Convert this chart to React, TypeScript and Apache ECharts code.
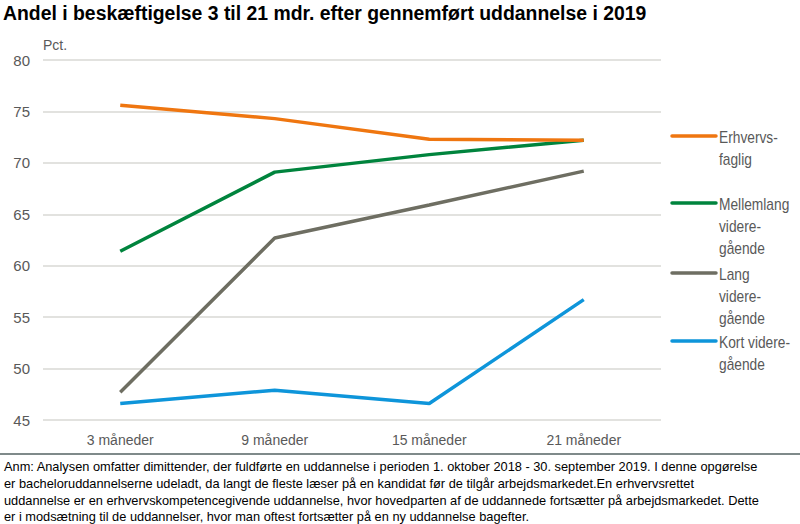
import React, { useEffect, useRef } from "react";
import * as echarts from "echarts";

const categories = ["3 måneder", "9 måneder", "15 måneder", "21 måneder"];
const seriesNames = ["Erhvervs-\nfaglig", "Mellemlang\nvidere-\ngående", "Lang\nvidere-\ngående", "Kort videre-\ngående"];
const erhvervsfaglig = [75.6, 74.3, 72.3, 72.2];
const mellemlang = [61.4, 69.1, 70.8, 72.2];
const lang = [47.7, 62.7, 65.9, 69.2];
const kort = [46.6, 47.9, 46.6, 56.7];
const colors = ["#EF7610", "#00843D", "#6E6E62", "#0E95DA"];
const legendY = [136, 203, 273, 341];

const title = "Andel i beskæftigelse 3 til 21 mdr. efter gennemført uddannelse i 2019";
const note =
  "Anm: Analysen omfatter dimittender, der fuldførte en uddannelse i perioden 1. oktober 2018 - 30. september 2019. I denne opgørelse\n" +
  "er bacheloruddannelserne udeladt, da langt de fleste læser på en kandidat før de tilgår arbejdsmarkedet.En erhvervsrettet\n" +
  "uddannelse er en erhvervskompetencegivende uddannelse, hvor hovedparten af de uddannede fortsætter på arbejdsmarkedet. Dette\n" +
  "er i modsætning til de uddannelser, hvor man oftest fortsætter på en ny uddannelse bagefter.";

const sans = "'Liberation Sans', Arial, sans-serif";

const App: React.FC = () => {
  const chartRef = useRef<HTMLDivElement>(null);

  useEffect(() => {
    if (!chartRef.current) return;
    const chart = echarts.init(chartRef.current, undefined, { renderer: "svg" });
    const values = [erhvervsfaglig, mellemlang, lang, kort];

    const legendGraphics: any[] = [];
    seriesNames.forEach((name, i) => {
      legendGraphics.push({
        type: "line",
        shape: { x1: 672, y1: legendY[i], x2: 716, y2: legendY[i] },
        style: { stroke: colors[i], lineWidth: 3.5, lineCap: "round" },
      });
      legendGraphics.push({
        type: "text",
        x: 719,
        y: legendY[i] - 10,
        scaleX: 0.86,
        style: {
          text: name,
          font: `16px ${sans}`,
          fill: "#595959",
          lineHeight: 22,
        },
      });
    });

    chart.setOption({
      animation: false,
      backgroundColor: "#ffffff",
      title: {
        text: title,
        left: 3,
        top: 3,
        padding: 0,
        textStyle: { fontFamily: sans, fontWeight: "bold", fontSize: 19.4, color: "#000000" },
      },
      grid: { left: 43, right: 139, top: 60, bottom: 104 },
      xAxis: {
        type: "category",
        data: categories,
        boundaryGap: true,
        axisLine: { show: false },
        axisTick: { show: false },
        axisLabel: { color: "#595959", fontSize: 14, fontFamily: sans, margin: 13 },
      },
      yAxis: {
        type: "value",
        min: 45,
        max: 80,
        interval: 5,
        name: "Pct.",
        nameLocation: "end",
        nameGap: 8,
        nameTextStyle: { color: "#595959", fontSize: 14, fontFamily: sans, align: "left", padding: [0, 0, 0, 0] },
        axisLine: { show: false },
        axisTick: { show: false },
        axisLabel: { color: "#595959", fontSize: 15, fontFamily: sans, margin: 13 },
        splitLine: { lineStyle: { color: "#D9D9D4", width: 1.5 } },
      },
      series: values.map((data, i) => ({
        name: seriesNames[i],
        type: "line",
        data,
        symbol: "none",
        lineStyle: { color: colors[i], width: 3.5 },
        z: 10 - i,
      })),
      graphic: [
        ...legendGraphics,
        {
          type: "line",
          shape: { x1: 0, y1: 454, x2: 800, y2: 454 },
          style: { stroke: "#7F8A8A", lineWidth: 2 },
        },
        {
          type: "text",
          x: 4,
          y: 458,
          style: { text: note, font: `12.8px ${sans}`, fill: "#000000", lineHeight: 16.8 },
        },
      ],
    });

    return () => chart.dispose();
  }, []);

  return (
    <div
      ref={chartRef}
      style={{ position: "fixed", left: 0, top: 0, width: "800px", height: "524px" }}
    />
  );
};

export default App;
